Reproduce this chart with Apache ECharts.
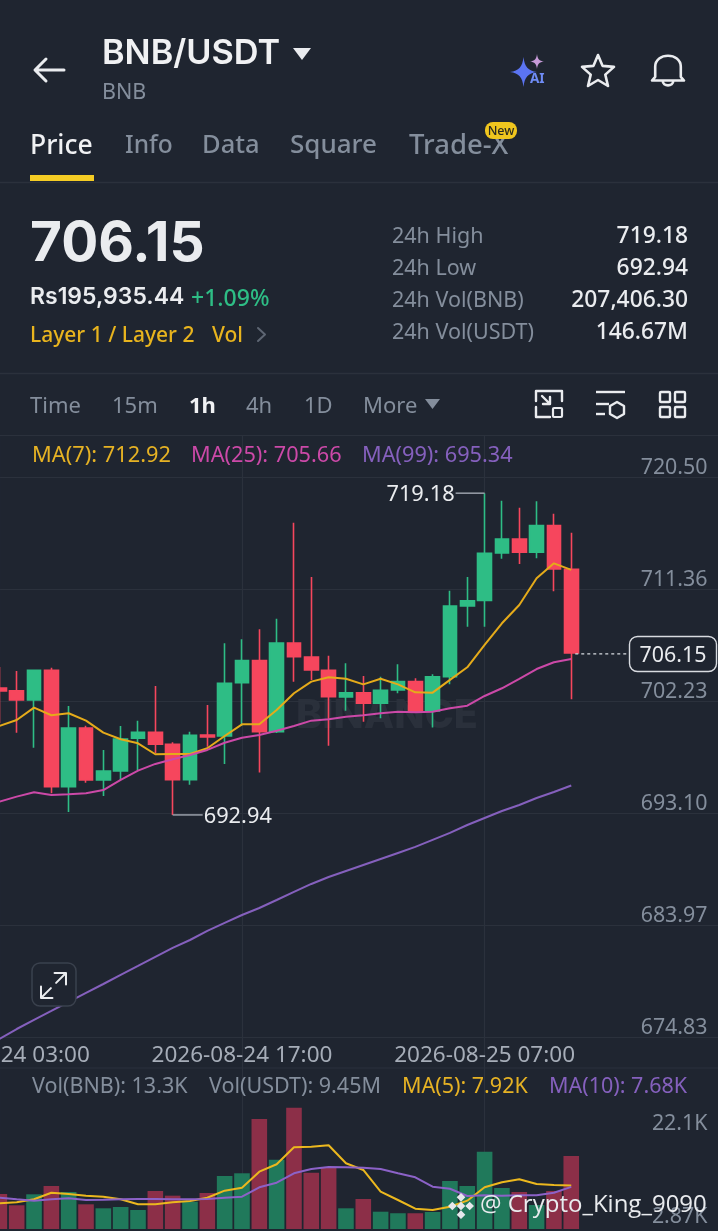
<!DOCTYPE html>
<html><head><meta charset="utf-8">
<style>html,body{margin:0;padding:0;background:#1f2530}#c{width:718px;height:1231px}</style>
<script src="https://cdn.jsdelivr.net/npm/echarts@6/dist/echarts.min.js"></script>
</head><body><div id="c"></div>
<script>
const categories = ["2026-08-24 03:00","2026-08-24 04:00","2026-08-24 05:00","2026-08-24 06:00","2026-08-24 07:00","2026-08-24 08:00","2026-08-24 09:00","2026-08-24 10:00","2026-08-24 11:00","2026-08-24 12:00","2026-08-24 13:00","2026-08-24 14:00","2026-08-24 15:00","2026-08-24 16:00","2026-08-24 17:00","2026-08-24 18:00","2026-08-24 19:00","2026-08-24 20:00","2026-08-24 21:00","2026-08-24 22:00","2026-08-24 23:00","2026-08-25 00:00","2026-08-25 01:00","2026-08-25 02:00","2026-08-25 03:00","2026-08-25 04:00","2026-08-25 05:00","2026-08-25 06:00","2026-08-25 07:00","2026-08-25 08:00","2026-08-25 09:00","2026-08-25 10:00","2026-08-25 11:00","2026-08-25 12:00","2026-08-25 13:00","2026-08-25 14:00","2026-08-25 15:00","2026-08-25 16:00","2026-08-25 17:00","2026-08-25 18:00","2026-08-25 19:00","2026-08-25 20:00"];
const opens = [703.29,703.07,702.31,704.74,695.24,700.03,695.79,696.52,699.19,699.68,698.70,695.81,699.46,699.38,703.73,705.52,699.73,706.96,705.82,704.74,702.56,702.89,702.05,703.13,703.81,701.42,704.21,709.98,710.44,714.30,715.44,714.36,716.53,712.98];
const closes = [703.05,702.31,704.74,695.24,700.03,695.79,696.52,699.13,699.68,698.70,695.81,699.44,699.30,703.68,705.52,699.73,706.96,705.85,704.76,702.58,702.89,702.05,703.11,703.81,701.36,704.21,709.98,710.41,714.28,715.44,714.36,716.53,713.00,706.15];
const highs = [705.01,704.68,704.78,704.95,701.83,700.22,698.24,700.19,700.63,703.46,698.86,699.73,701.91,706.94,707.26,708.08,708.94,716.77,712.34,705.93,705.31,704.27,704.21,705.23,704.08,704.41,711.23,712.34,719.18,718.57,718.00,718.52,717.51,715.96];
const lows = [700.44,699.65,698.42,694.71,693.18,695.57,694.49,695.79,696.61,697.99,692.94,695.41,698.51,697.10,700.19,696.39,699.62,703.81,703.95,698.59,701.44,700.54,700.82,702.86,701.25,700.06,703.59,708.29,708.29,713.84,713.41,713.87,711.18,702.37];
const ma7 = [700.19,700.68,701.69,701.07,701.23,700.63,699.65,699.11,698.78,697.89,697.91,697.91,698.38,699.38,700.33,700.33,701.50,702.86,703.81,704.17,704.05,703.59,704.05,703.59,702.94,702.91,703.95,704.98,706.80,708.57,710.06,712.24,713.46,712.92];
const ma25 = [694.02,694.43,694.79,694.57,694.62,694.71,694.97,695.79,696.55,697.10,697.48,697.83,698.24,698.83,699.24,699.46,699.81,700.19,700.63,700.74,700.95,701.07,701.23,701.36,701.31,701.36,701.64,701.85,702.64,703.27,704.03,704.84,705.39,705.66];
const ma99 = [674.67,675.48,676.22,676.95,677.69,678.42,679.15,679.89,680.62,681.36,682.09,682.74,683.48,684.13,684.78,685.35,686.00,686.66,687.31,687.88,688.37,688.86,689.35,689.84,690.33,690.90,691.47,692.12,692.69,693.26,693.75,694.32,694.81,695.34];
const volumes = [6.38,4.32,6.32,7.83,6.74,4.50,3.77,4.01,3.46,6.92,6.07,4.97,6.56,9.66,10.15,20.04,12.63,22.1,10.26,11.17,3.77,5.47,3.15,2.87,2.87,3.10,8.75,7.83,14.08,7.47,6.74,4.37,6.92,13.3];
const volMa5 = [4.68,4.86,5.41,6.61,6.38,6.07,5.89,5.41,4.50,4.50,4.86,5.10,5.70,6.98,7.52,10.44,11.79,14.89,14.99,15.25,11.97,10.75,6.80,5.28,3.70,3.46,4.06,5.16,7.60,8.51,9.06,8.20,8.02,7.92];
const volMa10 = [5.70,5.41,5.16,5.41,5.59,5.28,5.34,5.41,5.47,5.47,5.41,5.41,5.47,5.70,5.89,7.60,8.44,10.15,10.93,11.30,11.24,11.17,10.93,10.15,9.42,7.71,7.34,6.01,6.14,6.07,6.14,6.14,6.61,7.68];
const priceTicks = [720.50,711.36,702.23,693.10,683.97,674.83];
const volumeTicks = [22.1,2.87];

const BG='#1f2530', FONT='"Noto Sans"', INTER='Inter', GRAY='#848e9c', LINE='#2b313c', WHITE='#eaecef',
      UP='#2ebd85', DOWN='#f6465d', YEL='#e6b224', PINK='#cc49a8', PUR='#8560bd';
const N = 42, BAND = 17.33, LEFT = -9.3;

// small path shape for the app's icons (M, L, C, Z, absolute coordinates)
echarts.graphic.registerShape('ico', echarts.graphic.extendShape({
  type:'ico', shape:{d:'',x:0,y:0,w:1,h:1},
  buildPath(ctx,s){
    const t=s.d.match(/[MLCZ]|-?[\d.]+/g); const nums=t.filter(v=>!/[MLCZ]/.test(v)).map(Number);
    let x0=1e9,x1=-1e9,y0=1e9,y1=-1e9;
    nums.forEach((v,i)=>{ if(i%2){y0=Math.min(y0,v);y1=Math.max(y1,v);} else {x0=Math.min(x0,v);x1=Math.max(x1,v);} });
    const fx=v=>s.x+(v-x0)*s.w/(x1-x0), fy=v=>s.y+(v-y0)*s.h/(y1-y0);
    let i=0; const nx=()=>Number(t[i++]);
    while(i<t.length){ const c=t[i++];
      if(c==='M'){const a=nx(),b=nx();ctx.moveTo(fx(a),fy(b));}
      else if(c==='L'){const a=nx(),b=nx();ctx.lineTo(fx(a),fy(b));}
      else if(c==='C'){const a=nx(),b=nx(),e=nx(),f=nx(),g=nx(),h=nx();ctx.bezierCurveTo(fx(a),fy(b),fx(e),fy(f),fx(g),fy(h));}
      else if(c==='Z'){ctx.closePath();}
    }
  }
}));

const chart = echarts.init(document.getElementById('c'), null, {width:718,height:1231});

chart.setOption({
  animation:false, backgroundColor:BG,
  grid:[
    {left:LEFT, top:435, width:BAND*N, height:633, outerBoundsMode:'none'},
    {left:LEFT, top:1068, width:BAND*N, height:161, outerBoundsMode:'none'}
  ],
  xAxis:[0,1].map(g=>({
    type:'category', gridIndex:g, data:categories, boundaryGap:true,
    axisLine:{show:false}, axisTick:{show:false},
    splitLine:{show:true, interval:13, alignWithLabel:true, lineStyle:{color:LINE,width:1.2}},
    axisLabel: g===0 ? {show:true, inside:true, interval:13, margin:1, hideOverlap:false,
      color:'#a6adb8', fontFamily:FONT, fontSize:22.5, verticalAlign:'bottom'} : {show:false}
  })),
  yAxis:[
    {type:'value', gridIndex:0, position:'right', min:672.30, max:723.925, scale:true,
     axisLine:{show:false}, axisTick:{show:false, customValues:priceTicks},
     splitLine:{show:true, customValues:priceTicks, lineStyle:{color:LINE,width:1.2}},
     axisLabel:{inside:true, margin:11, customValues:priceTicks, formatter:v=>v.toFixed(2),
       color:GRAY, fontFamily:FONT, fontSize:21.4, verticalAlign:'bottom', lineHeight:18}},
    {type:'value', gridIndex:1, min:0, max:29.33, position:'left',
     axisLine:{show:false}, axisTick:{show:false}, axisLabel:{show:false}, splitLine:{show:false}},
    {type:'value', gridIndex:1, min:0.388, max:33.68, position:'right',
     axisLine:{show:false}, axisTick:{show:false}, splitLine:{show:false},
     axisLabel:{inside:true, margin:11, customValues:volumeTicks, formatter:v=>v+'K',
       color:GRAY, fontFamily:FONT, fontSize:21.4}}
  ],
  series:[
    {type:'candlestick', name:'BNB/USDT', xAxisIndex:0, yAxisIndex:0, barWidth:14.2, z:3,
     data:opens.map((o,i)=>[o,closes[i],lows[i],highs[i]]),
     itemStyle:{color:UP,color0:DOWN,borderColor:UP,borderColor0:DOWN,borderWidth:1.6}},
    {type:'line', name:'MA(7)', data:ma7, xAxisIndex:0,yAxisIndex:0, symbol:'none', z:5, lineStyle:{color:'#e5ab1a',width:2}},
    {type:'line', name:'MA(25)', data:ma25, xAxisIndex:0,yAxisIndex:0, symbol:'none', z:5, lineStyle:{color:'#cc49a8',width:2}},
    {type:'line', name:'MA(99)', data:ma99, xAxisIndex:0,yAxisIndex:0, symbol:'none', z:5, lineStyle:{color:'#8560bd',width:2}},
    {type:'bar', name:'Vol(BNB)', xAxisIndex:1, yAxisIndex:1, barWidth:15.6, z:3,
     data:volumes.map((v,i)=>({value:v,itemStyle:{color:closes[i]>=opens[i]?'#20795b':'#8c2f48'}}))},
    {type:'line', name:'MA(5)', data:volMa5, xAxisIndex:1,yAxisIndex:1, symbol:'none', z:5, lineStyle:{color:'#ecb81e',width:2}},
    {type:'line', name:'MA(10)', data:volMa10, xAxisIndex:1,yAxisIndex:1, symbol:'none', z:5, lineStyle:{color:'#8c62c8',width:2}}
  ]
});

function txt(x,y,t,size,color,weight,align,extra){
  return {type:'text',x,y:y+2,z:50,silent:true,style:Object.assign({text:t,fontSize:size,fill:color,fontWeight:weight||400,
    fontFamily:FONT,textAlign:align||'left',textVerticalAlign:'middle'},extra||{})};
}
function ln(x1,y1,x2,y2,color,w,dash,z){
  return {type:'line',z:z||1,silent:true,shape:{x1,y1,x2,y2},style:{stroke:color,lineWidth:w||1,lineDash:dash||null}};
}
function icon(d,x,y,w,h,stroke,lw,fill){
  return {type:'ico',z:50,silent:true,shape:{d,x,y,w,h},
    style:{stroke:stroke||null,lineWidth:lw||0,fill:fill||'none',lineJoin:'round',lineCap:'round'}};
}
function rect(x,y,w,h,fill,r,stroke,lw,z){
  return {type:'rect',z:z||50,silent:true,shape:{x,y,width:w,height:h,r:r||0},style:{fill:fill,stroke:stroke||null,lineWidth:lw||0}};
}
function tri(x,y,w,h,c){ return icon('M0 0L10 0L5 8Z',x,y,w,h,null,0,c); }

const hiIdx = highs.indexOf(Math.max(...highs)), loIdx = lows.indexOf(Math.min(...lows));
const hiP = chart.convertToPixel({xAxisIndex:0,yAxisIndex:0},[hiIdx,highs[hiIdx]]);
const loP = chart.convertToPixel({xAxisIndex:0,yAxisIndex:0},[loIdx,lows[loIdx]]);
const lastP = chart.convertToPixel({xAxisIndex:0,yAxisIndex:0},[closes.length-1,closes[closes.length-1]]);

const SPARK='M12 0C13 8 16 11 24 12C16 13 13 16 12 24C11 16 8 13 0 12C8 11 11 8 12 0Z';
const IF={fontFamily:INTER};
const els = [
  // header
  icon('M30 12L2 12M12 1L1 12L12 23',35,59,29,22,WHITE,3),
  txt(102,52,'BNB/USDT',34.3,'#f0f1f3',600,'left',IF),
  tri(293,48,18,12,'#eaecef'),
  txt(102,91,'BNB',21.5,GRAY),
  icon(SPARK,510,57,27,30,null,0,'#5b74f2'),
  icon(SPARK,530,54,14,15,null,0,'#c79bd8'),
  txt(530,77,'AI',13.5,'#6f8cf5',700),
  icon('M16 1L20.5 11.5L32 12.5L23.3 20L26 31L16 25.2L6 31L8.7 20L0 12.5L11.5 11.5Z',582,55,32,31,WHITE,2.6),
  icon('M4 24L4 13C4 -3 28 -3 28 13L28 24L31 28L1 28Z M11 28C11 35 21 35 21 28',652,52,32,35,WHITE,2.6),
  // tabs
  txt(30,144,'Price',26.5,'#f0f1f3',500),
  txt(125,144,'Info',24.5,GRAY,500),
  txt(202,144,'Data',25.5,GRAY,500),
  txt(290,144,'Square',26,GRAY,500),
  txt(409,144,'Trade-X',27.5,GRAY,500),
  rect(485,122,32,17,'#f0c61e',8,null,0),
  txt(501,129,'New',12.5,'#2a2a20',500,'center'),
  rect(30,175,64,6,'#f5cc24',0,null,0),
  ln(0,182.5,718,182.5,LINE,1.5),
  // price block
  txt(30,242,'706.15',55,WHITE,700,'left',IF),
  txt(30,295,'Rs195,935.44',23,WHITE,600,'left',IF),
  txt(191,297,'+1.09%',23,UP,500),
  txt(30,334,'Layer 1 / Layer 2',21,'#e8b41e',500),
  txt(212,334,'Vol',21,'#e8b41e',500),
  icon('M0 0L6 7L0 14',258,328,7,13,'#5e6673',2),
  txt(392,235,'24h High',21.5,GRAY),
  txt(392,267,'24h Low',21.5,GRAY),
  txt(392,299,'24h Vol(BNB)',21.5,GRAY),
  txt(392,331,'24h Vol(USDT)',21.5,GRAY),
  txt(688,235,'719.18',22.8,WHITE,500,'right'),
  txt(688,267,'692.94',22.8,WHITE,500,'right'),
  txt(688,299,'207,406.30',22.8,WHITE,500,'right'),
  txt(688,331,'146.67M',22.8,WHITE,500,'right'),
  ln(0,373.5,718,373.5,LINE,1.5),
  // toolbar
  txt(30,405,'Time',22,GRAY),
  txt(112,405,'15m',22,GRAY),
  txt(189,405,'1h',22,'#f0f1f3',700),
  txt(246,405,'4h',22,GRAY),
  txt(304,405,'1D',22,GRAY),
  txt(363,405,'More',22,GRAY),
  tri(425,399,15,10,GRAY),
  icon('M0 10L0 0L26 0L26 10 M14 26L0 26L0 16 M6 5L14 13 M14 6L14 13L7 13',536,391,26,26,WHITE,2.4),
  rect(553,408,9,9,'none',1,WHITE,2.2),
  ln(596,392,625,392,WHITE,2.4,null,50),
  ln(596,404,609,404,WHITE,2.4,null,50),
  ln(596,414,605,414,WHITE,2.4,null,50),
  icon('M7 0L14 4L14 12L7 16L0 12L0 4Z',610,402,14,16,WHITE,2.4),
  rect(660,392,10,10,'none',1,WHITE,2.4),
  rect(675,392,10,10,'none',1,WHITE,2.4),
  rect(660,407,10,10,'none',1,WHITE,2.4),
  rect(675,407,10,10,'none',1,WHITE,2.4),
  ln(0,435.5,718,435.5,LINE,1.2),
  // legends
  txt(32,454,'MA(7): 712.92',21.8,YEL),
  txt(191,454,'MA(25): 705.66',21.7,PINK),
  txt(362,454,'MA(99): 695.34',21.7,PUR),
  ln(0,1068,718,1068,LINE,1.2),
  txt(32,1085,'Vol(BNB): 13.3K',21.5,GRAY),
  txt(209,1085,'Vol(USDT): 9.45M',21.5,GRAY),
  txt(402,1085,'MA(5): 7.92K',21.5,YEL),
  txt(549,1085,'MA(10): 7.68K',21.5,PUR),
  // expand button
  rect(32,963,44,43,'#1f2530',8,'#3a414d',1.5),
  icon('M0 24L9.5 14.5 M14.5 9.5L24 0 M13 0L24 0L24 11 M0 13L0 24L11 24',41,973,25,25,WHITE,2),
  // high / low annotations
  ln(hiP[0],hiP[1],hiP[0]-29,hiP[1],'#9aa0aa',1.5,null,6),
  txt(hiP[0]-30,hiP[1],String(highs[hiIdx]),21.8,WHITE,400,'right'),
  ln(loP[0],loP[1],loP[0]+30,loP[1],'#9aa0aa',1.5,null,6),
  txt(loP[0]+31,loP[1],String(lows[loIdx]),21.8,WHITE),
  // last price tag
  ln(lastP[0]+4,lastP[1]+1,630,lastP[1]+1,'#d8dbe0',1.3,[3,3],6),
  rect(629.5,636.5,87,35,BG,8,'#d8dbe0',1.4,40),
  txt(673,654,closes[closes.length-1].toFixed(2),21.4,WHITE,400,'center'),
  // BINANCE watermark
  {type:'text',x:296,y:716,z:-1,silent:true,style:{text:'BINANCE',fontSize:39.5,fontWeight:800,fill:'#2a303b',fontFamily:'Inter',textVerticalAlign:'middle'}},
  // author watermark
  icon('M12 0L16 4L12 8L8 4Z M4 8L8 12L4 16L0 12Z M20 8L24 12L20 16L16 12Z M12 8L16 12L12 16L8 12Z M12 16L16 20L12 24L8 20Z',448,1193,26,26,null,0,'#e6e8ec'),
  txt(480,1203,'@ Crypto_King_9090',24,'#e9ebee',400,'left',{fontFamily:'"Open Sans"',shadowColor:'rgba(0,0,0,0.6)',shadowBlur:2,shadowOffsetX:1,shadowOffsetY:1})
];
chart.setOption({graphic:{elements:els}});
</script></body></html>
